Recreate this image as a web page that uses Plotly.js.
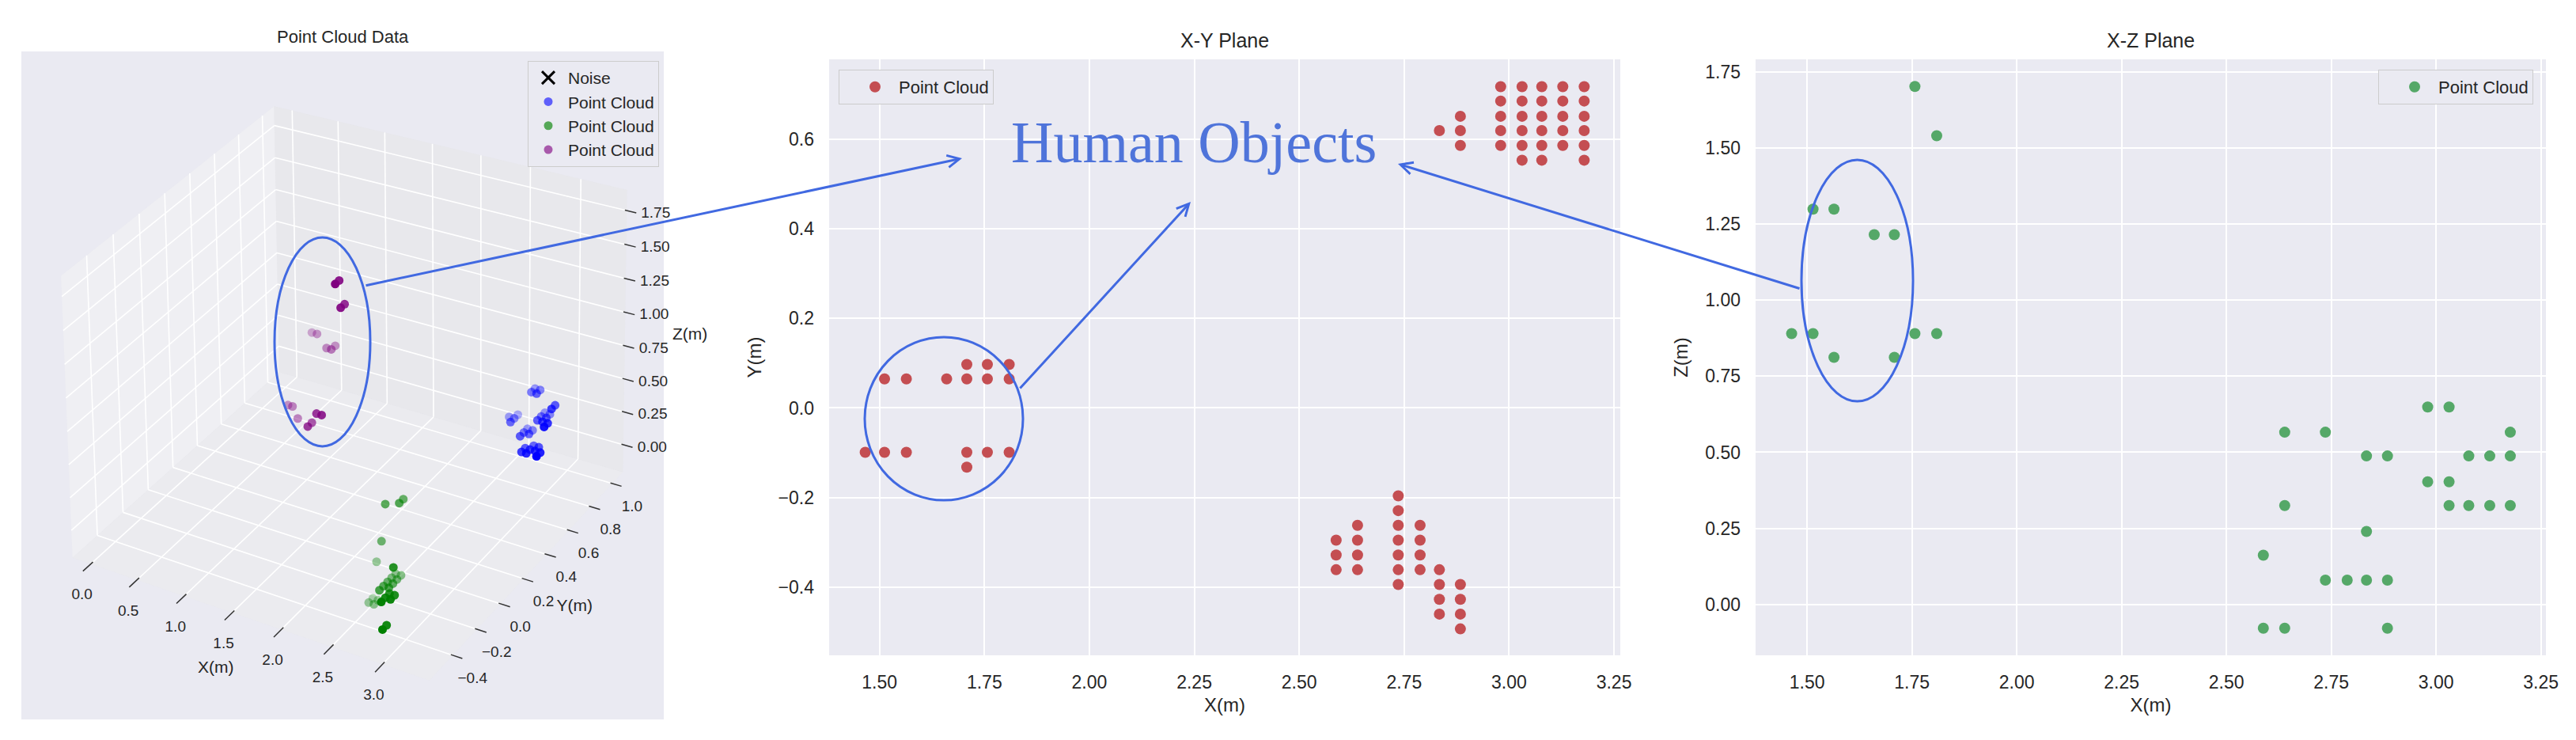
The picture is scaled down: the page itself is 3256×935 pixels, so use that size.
<!DOCTYPE html>
<html>
<head>
<meta charset="utf-8">
<script src="https://cdn.plot.ly/plotly-3.0.1.min.js"></script>
<style>html,body{margin:0;padding:0;background:#fff;}#chart{width:3256px;height:935px;}</style>
</head>
<body>
<div id="chart"></div>
<script>
// ---------- X-Y plane (all points, red) ----------
const xy_x = [
  1.708,1.757,1.809, 1.512,1.564,1.660,1.708,1.757,1.809, 1.466,1.512,1.564,1.708,1.757,1.809, 1.708,
  2.588,2.588,2.588, 2.639,2.639,2.639,2.639,
  2.736,2.736,2.736,2.736,2.736,2.736,2.736,
  2.788,2.788,2.788,2.788, 2.834,2.834,2.834,2.834, 2.884,2.884,2.884,2.884,
  2.834, 2.884,2.884,2.884,
  2.980,2.980,2.980,2.980,2.980,
  3.031,3.031,3.031,3.031,3.031,3.031,
  3.078,3.078,3.078,3.078,3.078,3.078,
  3.128,3.128,3.128,3.128,3.128,
  3.179,3.179,3.179,3.179,3.179,3.179
];
const xy_y = [
  0.097,0.097,0.097, 0.065,0.065,0.065,0.065,0.065,0.065, -0.099,-0.099,-0.099,-0.099,-0.099,-0.099, -0.132,
  -0.295,-0.328,-0.361, -0.262,-0.295,-0.328,-0.361,
  -0.196,-0.229,-0.262,-0.295,-0.328,-0.361,-0.394,
  -0.262,-0.295,-0.328,-0.361, -0.361,-0.394,-0.427,-0.460, -0.394,-0.427,-0.460,-0.493,
  0.619, 0.651,0.619,0.586,
  0.717,0.685,0.651,0.619,0.586,
  0.717,0.685,0.651,0.619,0.586,0.553,
  0.717,0.685,0.651,0.619,0.586,0.553,
  0.717,0.685,0.651,0.619,0.586,
  0.717,0.685,0.651,0.619,0.586,0.553
];
// ---------- X-Z plane (all points, green) ----------
const xz_x = [
  1.463,1.514,1.514,1.564,1.564,1.660,1.708,1.708,1.757,1.757,1.809,1.809,
  2.980,3.031, 2.639,2.736,3.177, 2.834,2.884,3.078,3.128,3.177, 2.980,3.031,
  2.639,3.031,3.078,3.128,3.177, 2.834, 2.588, 2.736,2.788,2.834,2.884, 2.588,2.639,2.884
];
const xz_z = [
  0.890,1.299,0.890,1.299,0.812,1.215,1.215,0.812,1.702,0.890,1.540,0.890,
  0.649,0.649, 0.566,0.566,0.566, 0.488,0.488,0.488,0.488,0.488, 0.403,0.403,
  0.325,0.325,0.325,0.325,0.325, 0.240, 0.162, 0.080,0.080,0.080,0.080, -0.078,-0.078,-0.078
];
// ---------- 3D clusters ----------
const blue_x = [2.834, 2.884,2.884,2.884, 2.980,2.980,2.980,2.980,2.980,
  3.031,3.031,3.031,3.031,3.031,3.031, 3.078,3.078,3.078,3.078,3.078,3.078,
  3.128,3.128,3.128,3.128,3.128, 3.179,3.179,3.179,3.179,3.179,3.179];
const blue_y = [0.619, 0.651,0.619,0.586, 0.717,0.685,0.651,0.619,0.586,
  0.717,0.685,0.651,0.619,0.586,0.553, 0.717,0.685,0.651,0.619,0.586,0.553,
  0.717,0.685,0.651,0.619,0.586, 0.717,0.685,0.651,0.619,0.586,0.553];
const blue_z = [0.488, 0.488,0.488,0.488, 0.649,0.649,0.403,0.403,0.403,
  0.649,0.649,0.403,0.403,0.325,0.325, 0.488,0.488,0.488,0.325,0.325,0.325,
  0.488,0.488,0.488,0.325,0.325, 0.566,0.566,0.488,0.488,0.325,0.325];
const green_x = [2.588,2.588,2.588, 2.639,2.639,2.639,2.639,
  2.736,2.736,2.736,2.736,2.736,2.736,2.736, 2.788,2.788,2.788,2.788,
  2.834,2.834,2.834,2.834, 2.884,2.884,2.884,2.884];
const green_y = [-0.295,-0.328,-0.361, -0.262,-0.295,-0.328,-0.361,
  -0.196,-0.229,-0.262,-0.295,-0.328,-0.361,-0.394, -0.262,-0.295,-0.328,-0.361,
  -0.361,-0.394,-0.427,-0.460, -0.394,-0.427,-0.460,-0.493];
const green_z = [0.162,-0.078,-0.078, 0.566,0.325,-0.078,-0.078,
  0.566,0.566,0.080,0.080,0.080,0.080,0.080, 0.080,0.080,0.080,0.080,
  0.240,0.080,0.080,0.080, 0.080,0.080,-0.078,-0.078];
const purple_x = [1.757,1.757,1.809,1.809,1.512,1.564,1.660,1.708,1.708,
  1.466,1.512,1.564,1.708,1.708,1.757,1.809];
const purple_y = [0.097,0.065,0.097,0.065,0.065,0.065,0.065,0.097,0.065,
  -0.099,-0.099,-0.099,-0.099,-0.132,-0.099,-0.099];
const purple_z = [1.702,1.702,1.540,1.540,1.299,1.299,1.215,1.215,1.215,
  0.890,0.890,0.812,0.812,0.812,0.890,0.890];
const noise_x = [], noise_y = [], noise_z = [];

// ---------- 3D axes: limits and tick values ----------
const lim3 = {x:[-0.2, 3.45], y:[-0.59, 1.10], z:[-0.21, 1.90]};
const ticks3_x = [0, 0.5, 1.0, 1.5, 2.0, 2.5, 3.0];
const ticks3_y = [-0.4, -0.2, 0.0, 0.2, 0.4, 0.6, 0.8, 1.0];
const ticks3_z = [0, 0.25, 0.5, 0.75, 1.0, 1.25, 1.5, 1.75];

// ---------- labels ----------
const titles = ['Point Cloud Data', 'X-Y Plane', 'X-Z Plane'];
const seriesName = 'Point Cloud';
const noiseName = 'Noise';
const highlightText = 'Human Objects';
const axisNames = {x:'X(m)', y:'Y(m)', z:'Z(m)'};

const W = 3256, H = 935;
const px = v => v / W, py = v => 1 - v / H;
const FONT = 'Liberation Sans, Arial, sans-serif';
const TXT = '#262626';
const BLUE_ANN = '#4169E1';

const [x0,x1]=lim3.x, [y0,y1]=lim3.y, [z0,z1]=lim3.z;
const xr=x1-x0, yr=y1-y0, zr=z1-z0;

// ---------- 3D camera: perspective camera calibrated on the box corners / axis ticks of the panel ----------
const camCalib = [
  [[x0,y0,z0],[87.8,700.7]], [[x1,y0,z0],[545.8,858.7]], [[x1,y1,z0],[787,600]],
  [[x0,y0,z1],[74,357.8]],   [[x1,y1,z1],[790,235.5]],   [[x0,y1,z1],[353.8,132.4]],
  [[0,y0,z0],[113,709.5]],   [[3,y0,z0],[489,839]],
  [[x1,-0.4,z0],[573,827]],  [[x1,1.0,z0],[772,615]],
  [[x1,y1,0],[787,564]],     [[x1,y1,1.75],[790,263]]
];
const P3 = (function(){
  const rows=[], rhs=[];
  camCalib.forEach(([w,s])=>{
    const X=w[0], Y=w[1], Z=w[2], u=s[0]/1000, v=s[1]/1000;
    rows.push([X,Y,Z,1,0,0,0,0,-u*X,-u*Y,-u*Z]); rhs.push(u);
    rows.push([0,0,0,0,X,Y,Z,1,-v*X,-v*Y,-v*Z]); rhs.push(v);
  });
  const n=11, M=[]; for(let i=0;i<n;i++) M.push(new Array(n+1).fill(0));
  rows.forEach((r,k)=>{ for(let i=0;i<n;i++){ for(let j=0;j<n;j++) M[i][j]+=r[i]*r[j]; M[i][n]+=r[i]*rhs[k]; } });
  for(let c=0;c<n;c++){
    let p=c; for(let i=c+1;i<n;i++) if(Math.abs(M[i][c])>Math.abs(M[p][c])) p=i;
    const t=M[c]; M[c]=M[p]; M[p]=t;
    for(let i=0;i<n;i++) if(i!==c){ const f=M[i][c]/M[c][c]; for(let j=c;j<=n;j++) M[i][j]-=f*M[c][j]; }
  }
  const q = M.map((row,i)=>row[n]/row[i]);
  return (X,Y,Z)=>{
    const w=q[8]*X+q[9]*Y+q[10]*Z+1;
    return [1000*(q[0]*X+q[1]*Y+q[2]*Z+q[3])/w, 1000*(q[4]*X+q[5]*Y+q[6]*Z+q[7])/w, w];
  };
})();

function poly(pts){ const xs=[],ys=[]; pts.forEach(p=>{const q=P3(p[0],p[1],p[2]); xs.push(q[0]); ys.push(q[1]);}); return {x:xs,y:ys}; }
function segs(list){ const xs=[],ys=[]; list.forEach(s=>{const a=P3(...s[0]), b=P3(...s[1]); xs.push(a[0],b[0],null); ys.push(a[1],b[1],null);}); return {x:xs,y:ys}; }
const fmt = (v,dg) => (v<0?'\u2212':'') + Math.abs(v).toFixed(dg);
const on3 = {xaxis:'x3', yaxis:'y3', hoverinfo:'skip', showlegend:false};

const traces3 = [];
// panes
const paneFloor = poly([[x0,y0,z0],[x1,y0,z0],[x1,y1,z0],[x0,y1,z0],[x0,y0,z0]]);
const paneLeft  = poly([[x0,y0,z0],[x0,y1,z0],[x0,y1,z1],[x0,y0,z1],[x0,y0,z0]]);
const paneBack  = poly([[x0,y1,z0],[x1,y1,z0],[x1,y1,z1],[x0,y1,z1],[x0,y1,z0]]);
[[paneFloor,'rgba(236,236,236,0.5)'],[paneLeft,'rgba(243,243,243,0.5)'],[paneBack,'rgba(230,230,230,0.5)']].forEach(([pp,c])=>{
  traces3.push(Object.assign({type:'scatter', mode:'lines', x:pp.x, y:pp.y, fill:'toself', fillcolor:c, line:{width:0}}, on3));
});
// grid lines
const gl = [];
ticks3_x.forEach(v=>{ gl.push([[v,y0,z0],[v,y1,z0]]); gl.push([[v,y1,z0],[v,y1,z1]]); });
ticks3_y.forEach(v=>{ gl.push([[x0,v,z0],[x1,v,z0]]); gl.push([[x0,v,z0],[x0,v,z1]]); });
ticks3_z.forEach(v=>{ gl.push([[x0,y0,v],[x0,y1,v]]); gl.push([[x0,y1,v],[x1,y1,v]]); });
const glp = segs(gl);
traces3.push(Object.assign({type:'scatter', mode:'lines', x:glp.x, y:glp.y, line:{color:'#FFFFFF', width:1.6}}, on3));
// tick marks
const tm = [];
ticks3_x.forEach(v=>tm.push([[v,y0+0.01*yr,z0],[v,y0-0.035*yr,z0]]));
ticks3_y.forEach(v=>tm.push([[x1-0.005*xr,v,z0],[x1+0.025*xr,v,z0]]));
ticks3_z.forEach(v=>tm.push([[x1-0.005*xr,y1,v],[x1+0.025*xr,y1,v]]));
const tmp = segs(tm);
traces3.push(Object.assign({type:'scatter', mode:'lines', x:tmp.x, y:tmp.y, line:{color:'#333333', width:1.5}}, on3));
// tick labels (screen offsets from the axis edge)
function labelTrace(vals, fn, dx, dy, dg, pos){
  const xs=[],ys=[],tx=[];
  vals.forEach(v=>{ const q=fn(v); xs.push(q[0]+dx); ys.push(q[1]+dy); tx.push(fmt(v,dg)); });
  return Object.assign({type:'scatter', mode:'text', x:xs, y:ys, text:tx, textposition:pos, cliponaxis:false,
    textfont:{family:FONT, size:19, color:TXT}}, on3);
}
traces3.push(labelTrace(ticks3_x, v=>P3(v,y0,z0), -11, 40, 1, 'middle center'));
traces3.push(labelTrace(ticks3_y, v=>P3(x1,v,z0), 25, 30, 1, 'middle center'));
traces3.push(labelTrace(ticks3_z, v=>P3(x1,y1,v), 18, 4, 2, 'middle right'));
// axis titles X and Y (inside the panel)
const tX = P3(1.6, y0, z0), tY = P3(x1, 0.25, z0), tZ = P3(x1, y1, 0.85);
traces3.push(Object.assign({type:'scatter', mode:'text', x:[tX[0]-33, tY[0]+57], y:[tX[1]+66, tY[1]+43],
  text:[axisNames.x, axisNames.y], textposition:'middle center', cliponaxis:false,
  textfont:{family:FONT, size:21, color:TXT}}, on3));

// projected clusters with matplotlib-like depth shading (far points fade)
function cluster3(name, xs, ys, zs, color){
  const sx=[], sy=[], dp=[];
  xs.forEach((x,i)=>{ const q=P3(x,ys[i],zs[i]); sx.push(q[0]); sy.push(q[1]); dp.push(q[2]); });
  const mn=Math.min(...dp), mx=Math.max(...dp);
  const op = dp.map(v => mx>mn ? 0.3+0.7*(mx-v)/(mx-mn) : 1);
  return {type:'scatter', mode:'markers', name:name, x:sx, y:sy, xaxis:'x3', yaxis:'y3', legend:'legend',
    marker:{color:color, size:11, opacity:op, line:{width:0}}, hoverinfo:'skip'};
}
const noiseProj = noise_x.map((x,i)=>P3(x,noise_y[i],noise_z[i]));

const traces = traces3.concat([
  {type:'scatter', mode:'markers', name:noiseName,
   x:noiseProj.length ? noiseProj.map(q=>q[0]) : [null], y:noiseProj.length ? noiseProj.map(q=>q[1]) : [null],
   xaxis:'x3', yaxis:'y3', legend:'legend', showlegend:true, hoverinfo:'skip',
   marker:{symbol:'x-thin-open', size:16, color:'black', line:{color:'black', width:3}}},
  cluster3(seriesName, blue_x, blue_y, blue_z, '#0000FF'),
  cluster3(seriesName, green_x, green_y, green_z, '#008000'),
  cluster3(seriesName, purple_x, purple_y, purple_z, '#800080'),
  {type:'scatter', mode:'markers', name:seriesName, x:xy_x, y:xy_y, xaxis:'x', yaxis:'y',
   marker:{color:'#C44E52', size:14, line:{width:0}}, legend:'legend2'},
  {type:'scatter', mode:'markers', name:seriesName, x:xz_x, y:xz_z, xaxis:'x2', yaxis:'y2',
   marker:{color:'#55A868', size:14, line:{width:0}}, legend:'legend3'}
]);

const ax2d = (extra) => Object.assign({
  showgrid:true, gridcolor:'#FFFFFF', gridwidth:2, zeroline:false, showline:false,
  ticks:'', ticklabelstandoff:18, automargin:false,
  tickfont:{family:FONT, size:23, color:TXT}
}, extra);

const legendBase = {bgcolor:'#EAEAF2', bordercolor:'#CCCCCC', borderwidth:1,
  font:{family:FONT, size:22, color:TXT}, yanchor:'top'};

const layout = {
  width:W, height:H, margin:{l:0, r:0, t:0, b:0},
  paper_bgcolor:'#FFFFFF', plot_bgcolor:'#EAEAF2',
  font:{family:FONT, color:TXT},
  showlegend:true,
  xaxis:ax2d({domain:[px(1048), px(2048)], range:[1.380, 3.265], tick0:1.5, dtick:0.25, tickformat:'.2f', anchor:'y',
    title:{text:'X(m)', font:{family:FONT, size:24, color:TXT}, standoff:8}}),
  yaxis:ax2d({domain:[py(828), py(75)], range:[-0.552, 0.778], tick0:0, dtick:0.2, tickformat:'.1f', anchor:'x',
    title:{text:'Y(m)', font:{family:FONT, size:24, color:TXT}, standoff:14}}),
  xaxis2:ax2d({domain:[px(2219), px(3218)], range:[1.377, 3.262], tick0:1.5, dtick:0.25, tickformat:'.2f', anchor:'y2',
    title:{text:'X(m)', font:{family:FONT, size:24, color:TXT}, standoff:8}}),
  yaxis2:ax2d({domain:[py(828), py(75)], range:[-0.167, 1.791], tick0:0, dtick:0.25, tickformat:'.2f', anchor:'x2',
    title:{text:'Z(m)', font:{family:FONT, size:24, color:TXT}, standoff:14}}),
  xaxis3:{domain:[px(27), px(839)], range:[27, 839], visible:false, showgrid:false, zeroline:false, anchor:'y3'},
  yaxis3:{domain:[py(909), py(65)], range:[909, 65], visible:false, showgrid:false, zeroline:false, anchor:'x3'},
  legend:Object.assign({}, legendBase, {x:px(833), xanchor:'right', y:py(77), itemwidth:40,
    font:{family:FONT, size:21, color:TXT}}),
  legend2:Object.assign({}, legendBase, {x:px(1060), xanchor:'left', y:py(88), itemwidth:50, indentation:15}),
  legend3:Object.assign({}, legendBase, {x:px(3202), xanchor:'right', y:py(88), itemwidth:50, indentation:15}),
  shapes:[
    {type:'circle', xref:'paper', yref:'paper', x0:px(347), x1:px(468), y0:py(564), y1:py(300),
     line:{color:BLUE_ANN, width:3}},
    {type:'circle', xref:'paper', yref:'paper', x0:px(1093), x1:px(1293), y0:py(632), y1:py(426),
     line:{color:BLUE_ANN, width:3}},
    {type:'circle', xref:'paper', yref:'paper', x0:px(2277), x1:px(2418), y0:py(507), y1:py(202),
     line:{color:BLUE_ANN, width:3}}
  ],
  annotations:[
    {text:titles[0], xref:'paper', yref:'paper', x:px(433), y:py(46), xanchor:'center', yanchor:'middle',
     showarrow:false, font:{family:FONT, size:22, color:TXT}},
    {text:titles[1], xref:'paper', yref:'paper', x:px(1548), y:py(51), xanchor:'center', yanchor:'middle',
     showarrow:false, font:{family:FONT, size:25, color:TXT}},
    {text:titles[2], xref:'paper', yref:'paper', x:px(2718), y:py(51), xanchor:'center', yanchor:'middle',
     showarrow:false, font:{family:FONT, size:25, color:TXT}},
    {text:axisNames.z, xref:'paper', yref:'paper', x:px(tZ[0]+58), y:py(tZ[1]+2), xanchor:'left', yanchor:'middle',
     showarrow:false, font:{family:FONT, size:21, color:TXT}},
    {text:highlightText, xref:'paper', yref:'paper', x:px(1509), y:py(180), xanchor:'center', yanchor:'middle',
     showarrow:false, font:{family:'Liberation Serif, Times New Roman, serif', size:74, color:'#4F74DA'}},
    {text:'', xref:'paper', yref:'paper', x:px(1216), y:py(200), ax:-755, ay:161, axref:'pixel', ayref:'pixel',
     showarrow:true, arrowhead:5, arrowsize:1, arrowwidth:3, arrowcolor:BLUE_ANN, standoff:0, startstandoff:0},
    {text:'', xref:'paper', yref:'paper', x:px(1505), y:py(255), ax:-217, ay:237, axref:'pixel', ayref:'pixel',
     showarrow:true, arrowhead:5, arrowsize:1, arrowwidth:3, arrowcolor:BLUE_ANN, standoff:0, startstandoff:0},
    {text:'', xref:'paper', yref:'paper', x:px(1767), y:py(207), ax:509, ay:158, axref:'pixel', ayref:'pixel',
     showarrow:true, arrowhead:5, arrowsize:1, arrowwidth:3, arrowcolor:BLUE_ANN, standoff:0, startstandoff:0}
  ]
};

Plotly.newPlot('chart', traces, layout, {displayModeBar:false, staticPlot:true});
</script>
</body>
</html>
